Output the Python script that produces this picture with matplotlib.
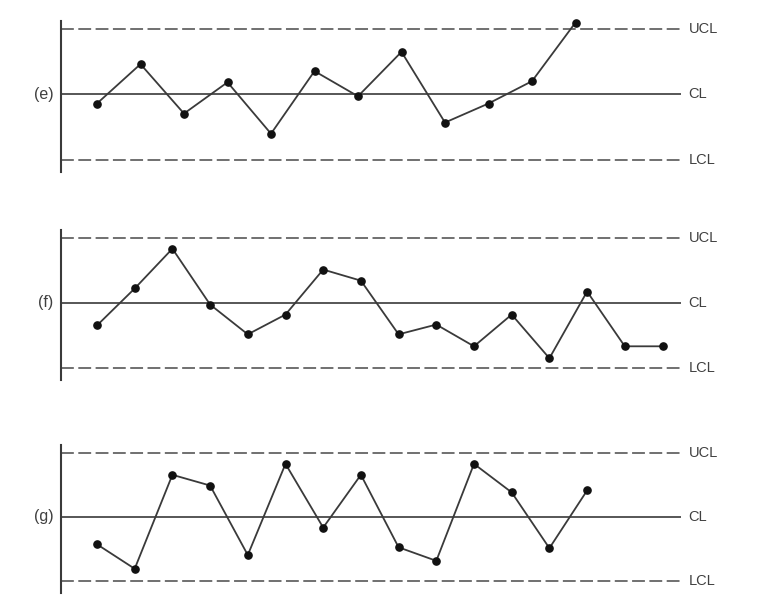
import matplotlib
matplotlib.use("Agg")
import matplotlib.pyplot as plt

# values in sigma units (CL = 0, UCL = +3, LCL = -3)
panel_labels = ["(e)", "(f)", "(g)"]
e_values = [-0.42, 1.38, -0.88, 0.55, -1.80, 1.06, -0.09, 1.94, -1.29, -0.42, 0.60, 3.28]
f_values = [-1.04, 0.66, 2.49, -0.08, -1.45, -0.54, 1.53, 1.02, -1.45, -1.00,
            -2.00, -0.54, -2.55, 0.52, -2.00, -2.00]
g_values = [-1.28, -2.42, 1.96, 1.46, -1.78, 2.47, -0.50, 1.96, -1.42, -2.05,
            2.47, 1.14, -1.46, 1.23]
limit_names = ["UCL", "CL", "LCL"]
limit_levels = [3, 0, -3]

plt.rcParams['font.family'] = ['Liberation Sans', 'DejaVu Sans']

W, H = 778, 614
fig = plt.figure(figsize=(W / 100, H / 100), dpi=100)

# (top px, bottom px, x-step px) for each panel
boxes = [(21, 172, 43.5), (230, 380, 37.7), (445, 593, 37.7)]
left_px, right_px, first_px = 61, 681, 97

for label, values, (top, bot, step) in zip(panel_labels, [e_values, f_values, g_values], boxes):
    ax = fig.add_axes((left_px / W, 1 - bot / H, (right_px - left_px) / W, (bot - top) / H))
    x = list(range(1, len(values) + 1))
    ax.set_xlim(1 - (first_px - left_px) / step, 1 + (right_px - first_px) / step)
    ax.set_ylim(-3.55, 3.35)

    for name, lvl in zip(limit_names, limit_levels):
        if lvl == 0:
            ax.axhline(lvl, color="#3a3a3a", lw=1.2)
        else:
            ax.axhline(lvl, color="#707070", lw=1.4, dashes=(6.6, 2.3))
        ax.annotate(name, xy=(1, lvl), xycoords=("axes fraction", "data"),
                    xytext=(5.5, 0), textcoords="offset points", va="center",
                    ha="left", fontsize=10.5, color="#404040")

    ax.plot(x, values, color="#3a3a3a", lw=1.3, marker="o", ms=5.2,
            mfc="#111111", mec="#111111", zorder=3, clip_on=False)

    ax.text(-0.012, 0, label, transform=ax.get_yaxis_transform(), ha="right",
            va="center", fontsize=11.5, color="#404040")

    for side in ["top", "right", "bottom"]:
        ax.spines[side].set_visible(False)
    ax.spines["left"].set_color("#3a3a3a")
    ax.spines["left"].set_linewidth(1.5)
    ax.set_xticks([])
    ax.set_yticks([])
    ax.patch.set_alpha(0)

fig.savefig("out.png", dpi=100)
